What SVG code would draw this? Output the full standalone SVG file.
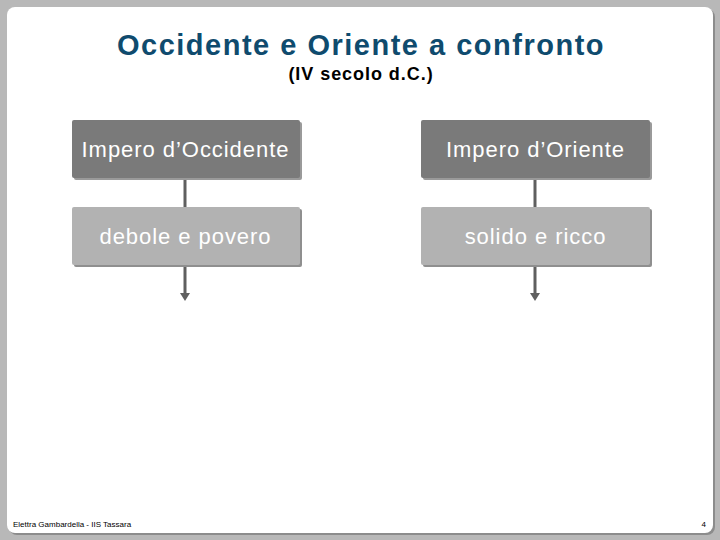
<svg xmlns="http://www.w3.org/2000/svg" width="720" height="540" viewBox="0 0 720 540">
<defs>
<style>
.t{font-family:"Liberation Sans",Arial,sans-serif;text-anchor:middle}
.lbl{font-family:"Liberation Sans",Arial,sans-serif;font-size:22px;fill:#ffffff;text-anchor:middle;letter-spacing:0.95px}
.dark{fill:#7a7a7a}
.light{fill:#b2b2b2}
.shd{fill:#9a9a9a}
.con{stroke:#5f5f5f;stroke-width:3;fill:none}
</style>
</defs>
<rect x="0" y="0" width="720" height="540" fill="#b8b8b8"/>
<rect x="9" y="9" width="706" height="526" rx="8" fill="#8c8c8c"/>
<rect x="7" y="7" width="706" height="526" rx="8" fill="#ffffff"/>
<g id="title">
<text class="t" x="361" y="55" font-size="29" font-weight="bold" fill="#0f4b6e" letter-spacing="1.5">Occidente e Oriente a confronto</text>
<text class="t" x="361" y="80" font-size="18" font-weight="bold" fill="#000000" letter-spacing="0.95">(IV secolo d.C.)</text>
</g>
<g id="connectors">
<line class="con" x1="185" y1="178" x2="185" y2="207"/>
<line class="con" x1="535" y1="178" x2="535" y2="207"/>
<line class="con" x1="185" y1="265" x2="185" y2="294"/>
<line class="con" x1="535" y1="265" x2="535" y2="294"/>
<path d="M180,293 L190,293 L185,301 Z" fill="#5f5f5f"/>
<path d="M530,293 L540,293 L535,301 Z" fill="#5f5f5f"/>
</g>
<g id="node-occidente">
<rect class="shd" x="74" y="122" width="228" height="58" rx="2"/>
<rect class="dark" x="72" y="120" width="228" height="58" rx="2"/>
<text class="lbl" x="185.5" y="157">Impero d’Occidente</text>
</g>
<g id="node-oriente">
<rect class="shd" x="423" y="122" width="229" height="58" rx="2"/>
<rect class="dark" x="421" y="120" width="229" height="58" rx="2"/>
<text class="lbl" x="535.5" y="157">Impero d’Oriente</text>
</g>
<g id="node-debole">
<rect fill="#8f8f8f" x="74" y="209" width="228" height="58" rx="2"/>
<rect class="light" x="72" y="207" width="228" height="58" rx="2"/>
<text class="lbl" x="185.5" y="244">debole e povero</text>
</g>
<g id="node-solido">
<rect fill="#8f8f8f" x="423" y="209" width="229" height="58" rx="2"/>
<rect class="light" x="421" y="207" width="229" height="58" rx="2"/>
<text class="lbl" x="535.5" y="244">solido e ricco</text>
</g>
<g id="footer">
<text x="13" y="527" font-family="Liberation Sans,Arial,sans-serif" font-size="8" fill="#000">Elettra Gambardella - IIS Tassara</text>
<text x="706" y="527" font-family="Liberation Sans,Arial,sans-serif" font-size="8" fill="#000" text-anchor="end">4</text>
</g>
</svg>
